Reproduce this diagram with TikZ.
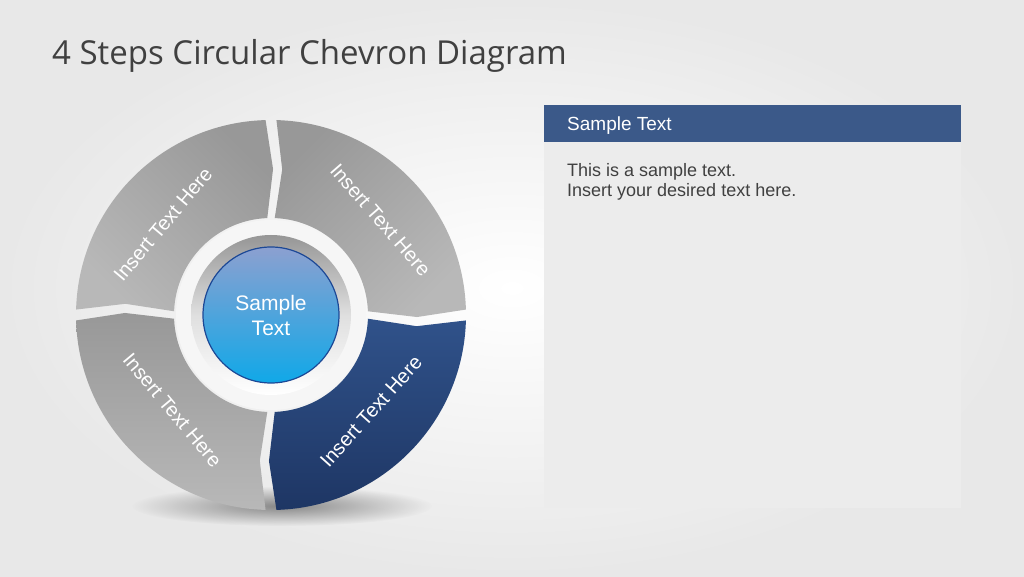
\documentclass[tikz,border=0pt]{standalone}
\usepackage{fontspec}
\setmainfont{Liberation Sans}
\newfontfamily\titlefont{Open Sans}
\usetikzlibrary{fadings}
\definecolor{BgGray}{RGB}{232,232,232}
\definecolor{TitleGray}{RGB}{64,64,64}
\definecolor{HeadBlue}{RGB}{59,89,137}
\definecolor{BodyGray}{RGB}{236,236,236}
\definecolor{SegDark}{RGB}{152,152,152}
\definecolor{SegLight}{RGB}{184,184,184}
\definecolor{NavyTop}{RGB}{48,82,138}
\definecolor{NavyBottom}{RGB}{30,54,100}
\definecolor{KnobTop}{RGB}{140,160,208}
\definecolor{KnobMid}{RGB}{58,118,198}
\definecolor{KnobBottom}{RGB}{16,168,232}
\definecolor{KnobEdge}{RGB}{28,72,150}
\definecolor{RingWhite}{RGB}{246,246,246}
\definecolor{SilverTop}{RGB}{150,150,150}
\tikzfading[name=softspot, inner color=transparent!25, outer color=transparent!100]
% one chevron segment, #1 = start angle (clockwise over 90 degrees)
\newcommand{\chevpath}[1]{%
  (#1-1.6:195) arc[start angle=#1-1.6, end angle=#1-88.4, radius=195]
  -- (#1-90-0.8:146) -- (#1-90+2.2:97)
  arc[start angle=#1-87.8, end angle=#1-2.2, radius=97]
  -- (#1-4.4:146) -- cycle}
\tikzset{
  segtext/.style={text=white, font=\fontsize{20}{24}\selectfont, inner sep=0pt},
  knob/.style={circle, minimum size=136pt, inner sep=0pt, draw=KnobEdge, line width=1.2pt,
    top color=KnobTop, middle color=KnobMid, bottom color=KnobBottom,
    text=white, align=center, font=\fontsize{21}{25}\selectfont},
  boxtext/.style={anchor=base west, inner sep=0pt, text=TitleGray, font=\fontsize{18}{20}\selectfont}
}
\begin{document}
\begin{tikzpicture}[x=1pt,y=1pt]
  \useasboundingbox (0,0) rectangle (1024,576);
  % background
  \shade[inner color=white, outer color=BgGray] (0,0) rectangle (1024,576);
  % title
  \node[anchor=base west, inner sep=0pt, text=TitleGray, font=\titlefont\fontsize{33}{38}\selectfont]
    (title) at (52,511) {4 Steps Circular Chevron Diagram};
  % shadow under the wheel
  \fill[black!60, path fading=softspot] (282,70) ellipse (150 and 20);
  \begin{scope}[shift={(271,261)}]
    % segments
    \shade[top color=SegDark, bottom color=SegLight, shading angle=-45] \chevpath{180};
    \shade[top color=SegDark, bottom color=SegLight, shading angle=45] \chevpath{90};
    \shade[top color=NavyTop, bottom color=NavyBottom] \chevpath{0};
    \shade[top color=SegDark, bottom color=SegLight] \chevpath{270};
    % hub
    \fill[RingWhite] (0,0) circle (95);
    \shade[top color=SilverTop, bottom color=white, middle color=gray!25] (0,0) circle (80);
    \node[knob] (hub) at (0,0) {Sample\\Text};
    % segment labels
    \node[segtext, rotate=50] (stepa) at (140:141) {Insert Text Here};
    \node[segtext, rotate=-49] (stepb) at (41:145) {Insert Text Here};
    \node[segtext, rotate=48] (stepc) at (-44:139) {Insert Text Here};
    \node[segtext, rotate=-50] (stepd) at (-136:137) {Insert Text Here};
  \end{scope}
  % text box
  \fill[BodyGray] (544,68) rectangle (961,434);
  \fill[HeadBlue] (544,434) rectangle (961,471);
  \node[boxtext, text=white, font=\fontsize{19}{22}\selectfont] (head) at (567,445) {Sample Text};
  \node[boxtext] (linea) at (567,399) {This is a sample text.};
  \node[boxtext] (lineb) at (567,379) {Insert your desired text here.};
\end{tikzpicture}
\end{document}
